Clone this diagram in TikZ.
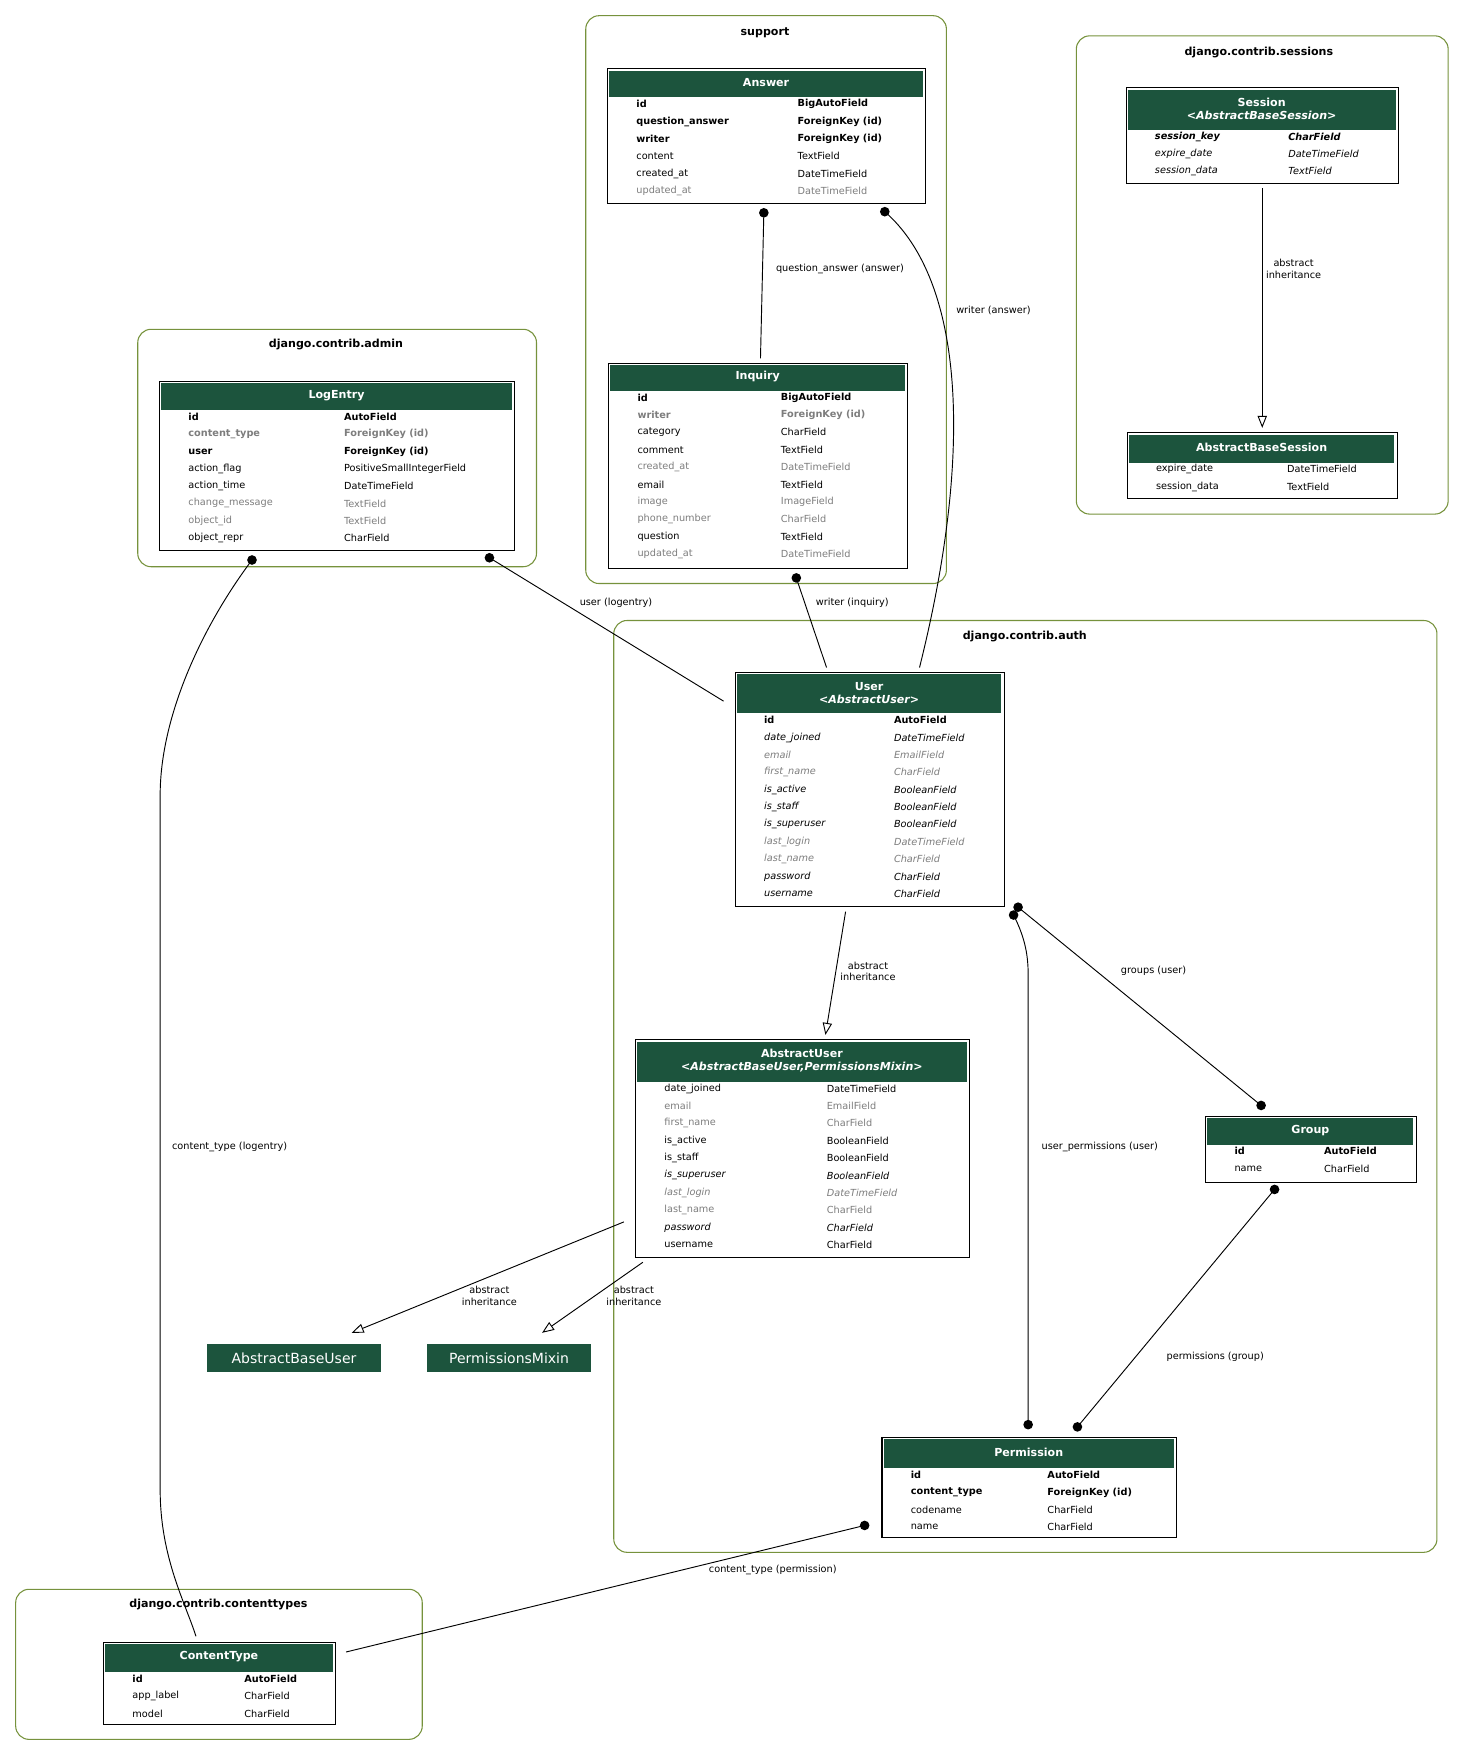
\documentclass[tikz,border=0pt]{standalone}
\usepackage{fontspec}
\setmainfont{DejaVu Sans}
\usetikzlibrary{arrows.meta}
\definecolor{hdr}{RGB}{28,84,61}
\definecolor{clus}{RGB}{118,146,60}
\definecolor{gtxt}{RGB}{125,125,125}
\newcommand\rowfont{\fontsize{7.3}{8}\selectfont}
\newcommand\mtable[9]{%
  \pgfmathsetmacro\tw{(#4-#2)*0.84}\pgfmathsetmacro\th{(#5-#3)*0.84}%
  \node[draw, line width=0.8pt, minimum width=\tw pt, minimum height=\th pt, inner sep=0pt, anchor=north west] (#1) at (#2,#3) {};
  \fill[hdr] (#2+2,#3+2) rectangle (#4-2,#3+#6);
  \node[htxt] at ({(#2+#4)/2},{#3+#6/2}) {#8};
  \foreach \s/\a/\b [count=\i] in {#9} {
    \node[row,\s] at (#2+26,{#3+#6+6+(\i-1)*15.5}) {\a};
    \node[row,\s] at (#7,{#3+#6+6+(\i-1)*15.5}) {\b};
  }%
}
\tikzset{
  row/.style={anchor=west, inner sep=0pt, font=\rowfont},
  n/.style={}, b/.style={font=\rowfont\bfseries}, g/.style={text=gtxt},
  i/.style={font=\rowfont\itshape}, bg/.style={font=\rowfont\bfseries, text=gtxt},
  gi/.style={font=\rowfont\itshape, text=gtxt}, bi/.style={font=\rowfont\bfseries\itshape},
  htxt/.style={text=white, font=\fontsize{8.3}{9.6}\selectfont\bfseries, align=center, inner sep=0pt},
  cluster/.style={draw=clus, line width=0.8pt, rounded corners=10pt},
  ctitle/.style={font=\fontsize{8.3}{10}\selectfont\bfseries},
  elabel/.style={font=\fontsize{7.3}{8.4}\selectfont, align=center, inner sep=0pt},
  edge/.style={line width=0.7pt},
  inh/.style={edge, -{Triangle[open, length=9pt, width=7pt]}},
  plain/.style={fill=hdr, text=white, font=\fontsize{10.5}{12}\selectfont, inner sep=0pt}
}
\newcommand\dotat[1]{\fill (#1) circle (4.3);}
\begin{document}
\begin{tikzpicture}[x=0.84pt,y=-0.84pt]
\useasboundingbox (0,0) rectangle (1303.6,1564.3);
% clusters
\draw[cluster] (523,14) rectangle (845,521);
\node[ctitle] at (683,29) {support};
\draw[cluster] (961,32) rectangle (1293,459);
\node[ctitle] at (1124,47) {django.contrib.sessions};
\draw[cluster] (123,294) rectangle (479,506);
\node[ctitle] at (300,308) {django.contrib.admin};
\draw[cluster] (548,554) rectangle (1283,1386);
\node[ctitle] at (915,568) {django.contrib.auth};
\draw[cluster] (14,1419) rectangle (377,1553);
\node[ctitle] at (195,1433) {django.contrib.contenttypes};
% tables
\mtable{answer}{542}{61}{826}{181}{26}{712}{Answer}{b/id/BigAutoField, b/question\_answer/{ForeignKey (id)}, b/writer/{ForeignKey (id)}, n/content/TextField, n/created\_at/DateTimeField, g/updated\_at/DateTimeField}
\mtable{inquiry}{543}{324}{810}{507}{25}{697}{Inquiry}{b/id/BigAutoField, bg/writer/{ForeignKey (id)}, n/category/CharField, n/comment/TextField, g/created\_at/DateTimeField, n/email/TextField, g/image/ImageField, g/phone\_number/CharField, n/question/TextField, g/updated\_at/DateTimeField}
\mtable{logentry}{142}{340}{459}{491}{26}{307}{LogEntry}{b/id/AutoField, bg/content\_type/{ForeignKey (id)}, b/user/{ForeignKey (id)}, n/action\_flag/PositiveSmallIntegerField, n/action\_time/DateTimeField, g/change\_message/TextField, g/object\_id/TextField, n/object\_repr/CharField}
\mtable{session}{1005}{78}{1248}{163}{38}{1150}{Session\\\itshape <AbstractBaseSession>}{bi/session\_key/CharField, i/expire\_date/DateTimeField, i/session\_data/TextField}
\mtable{abssession}{1006}{386}{1247}{445}{27}{1149}{AbstractBaseSession}{n/expire\_date/DateTimeField, n/session\_data/TextField}
\mtable{user}{656}{600}{896}{809}{37}{798}{User\\\itshape <AbstractUser>}{b/id/AutoField, i/date\_joined/DateTimeField, gi/email/EmailField, gi/first\_name/CharField, i/is\_active/BooleanField, i/is\_staff/BooleanField, i/is\_superuser/BooleanField, gi/last\_login/DateTimeField, gi/last\_name/CharField, i/password/CharField, i/username/CharField}
\mtable{absuser}{567}{928}{865}{1122}{38}{738}{AbstractUser\\\itshape <AbstractBaseUser,PermissionsMixin>}{n/date\_joined/DateTimeField, g/email/EmailField, g/first\_name/CharField, n/is\_active/BooleanField, n/is\_staff/BooleanField, i/is\_superuser/BooleanField, gi/last\_login/DateTimeField, g/last\_name/CharField, i/password/CharField, n/username/CharField}
\mtable{group}{1076}{996}{1264}{1055}{26}{1182}{Group}{b/id/AutoField, n/name/CharField}
\mtable{permission}{787}{1283}{1050}{1372}{28}{935}{Permission}{b/id/AutoField, b/content\_type/{ForeignKey (id)}, n/codename/CharField, n/name/CharField}
\mtable{contenttype}{92}{1466}{299}{1539}{27}{218}{ContentType}{b/id/AutoField, n/app\_label/CharField, n/model/CharField}
\node[plain, minimum width=130.2pt, minimum height=21pt] (abu) at (262.5,1212.5) {AbstractBaseUser};
\node[plain, minimum width=123.5pt, minimum height=21pt] (pm) at (454.5,1212.5) {PermissionsMixin};
% endpoints
\coordinate (a1) at (682,190); \coordinate (i1) at (679,320);
\coordinate (a2) at (790,189); \coordinate (u1) at (821,596);
\coordinate (i2) at (711,516); \coordinate (u2) at (738,596);
\coordinate (l1) at (437,498); \coordinate (u3) at (646,626);
\coordinate (l2) at (225,500); \coordinate (c1) at (175,1461);
\coordinate (s1) at (1127,168); \coordinate (s2) at (1127,382);
\coordinate (u4) at (755,814); \coordinate (au1) at (737,924);
\coordinate (u5) at (909,810); \coordinate (g1) at (1126,987);
\coordinate (u6) at (905,817); \coordinate (p1) at (918,1272);
\coordinate (g2) at (1138,1062); \coordinate (p2) at (962,1274);
\coordinate (p3) at (772,1362); \coordinate (c2) at (309,1475);
\coordinate (au2) at (557,1091); \coordinate (abu1) at (314,1190);
\coordinate (au3) at (574,1127); \coordinate (pm1) at (484,1190);
% edges
\draw[edge] (a1) -- (i1); \dotat{a1}
\node[elabel] at (750,240) {question\_answer (answer)};
\draw[edge] (a2) .. controls (860,250) and (870,400) .. (u1); \dotat{a2}
\node[elabel] at (887,277) {writer (answer)};
\draw[edge] (i2) -- (u2); \dotat{i2}
\node[elabel] at (761,538) {writer (inquiry)};
\draw[edge] (l1) -- (u3); \dotat{l1}
\node[elabel] at (550,538) {user (logentry)};
\draw[edge] (l2) .. controls (180,560) and (143,640) .. (143,710) -- (143,1330) .. controls (143,1390) and (165,1430) .. (c1); \dotat{l2}
\node[elabel] at (205,1024) {content\_type (logentry)};
\draw[inh] (s1) -- (s2);
\node[elabel] at (1155,240) {abstract\\inheritance};
\draw[inh] (u4) -- (au1);
\node[elabel] at (775,867) {abstract\\inheritance};
\draw[edge] (u5) -- (g1); \dotat{u5} \dotat{g1}
\node[elabel] at (1030,867) {groups (user)};
\draw[edge] (u6) .. controls (914,835) and (918,850) .. (918,870) -- (p1); \dotat{u6} \dotat{p1}
\node[elabel] at (982,1024) {user\_permissions (user)};
\draw[edge] (g2) -- (p2); \dotat{g2} \dotat{p2}
\node[elabel] at (1085,1211) {permissions (group)};
\draw[edge] (p3) -- (c2); \dotat{p3}
\node[elabel] at (690,1402) {content\_type (permission)};
\draw[inh] (au2) -- (abu1);
\node[elabel] at (437,1157) {abstract\\inheritance};
\draw[inh] (au3) -- (pm1);
\node[elabel] at (566,1157) {abstract\\inheritance};
\end{tikzpicture}
\end{document}
